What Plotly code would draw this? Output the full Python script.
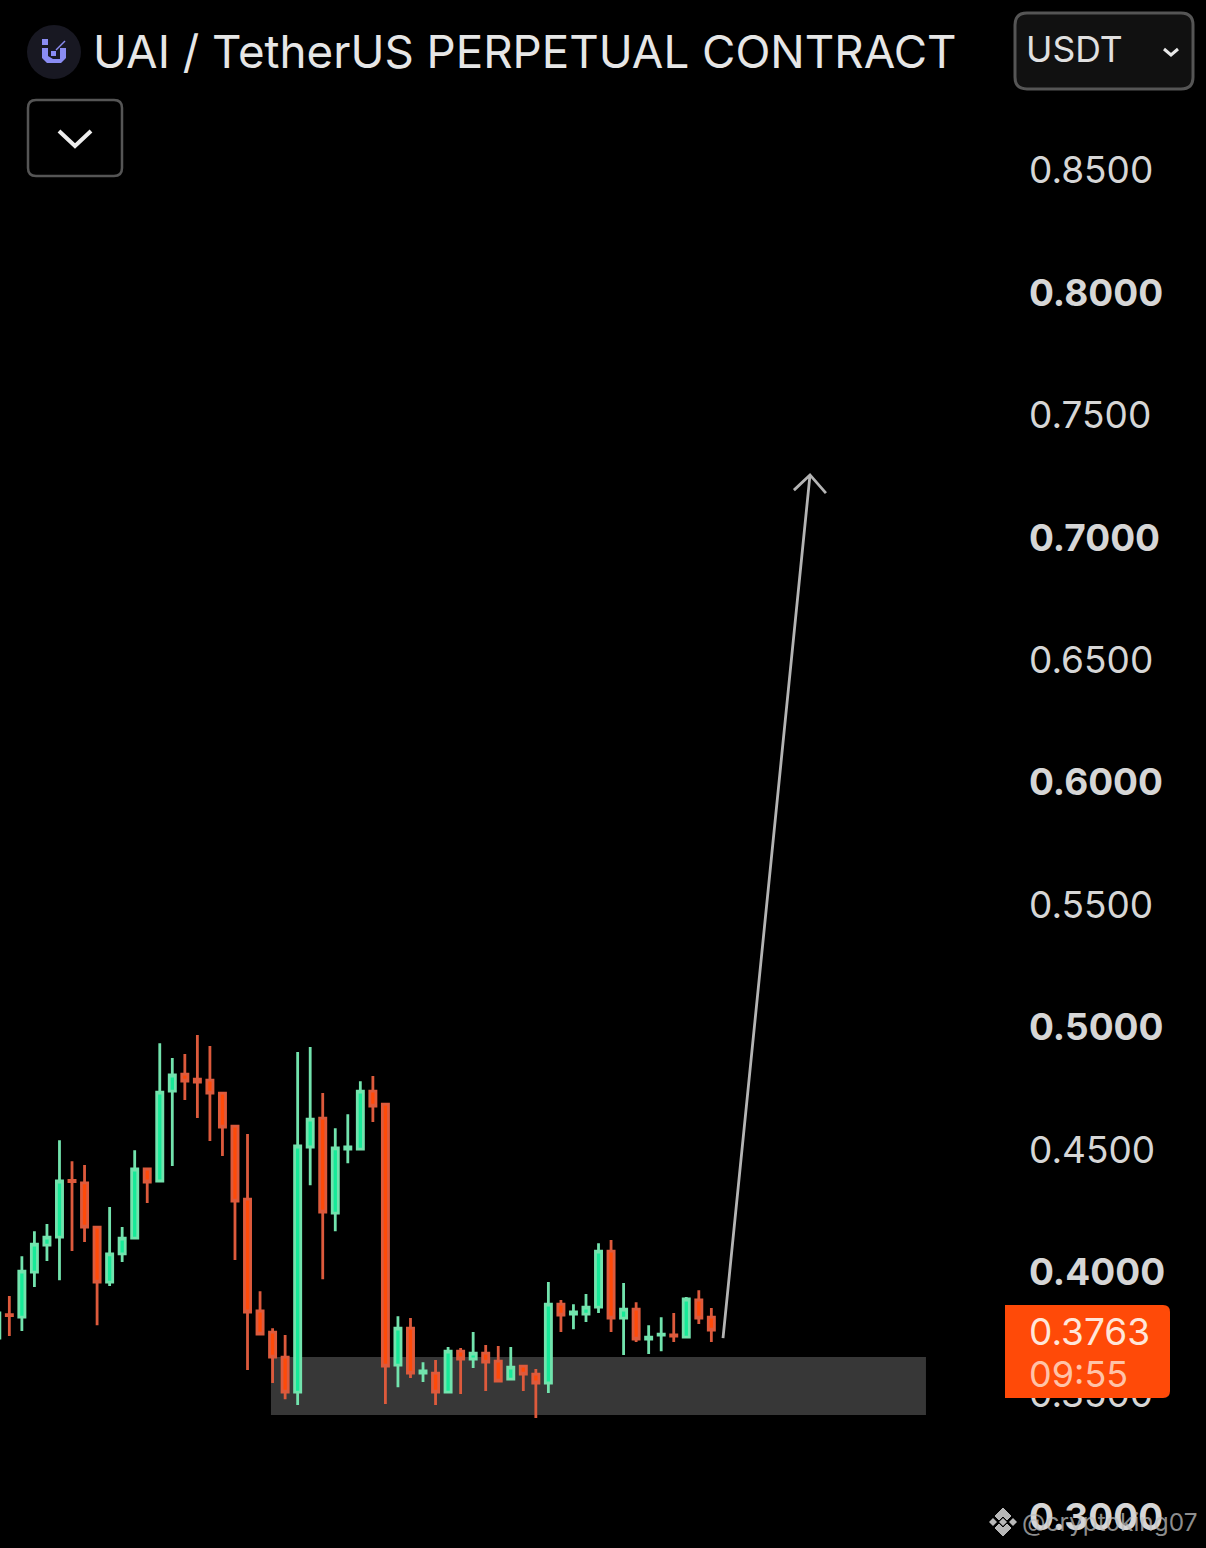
import plotly.graph_objects as go

W, H = 1206, 1548
PLOT_R = 1028

candle_x = list(range(58))
opens = [.3730, .3826, .3816, .4000, .4110, .4143, .4374, .4364, .4184, .3959,
         .4074, .4139, .4421, .4372, .4739, .4809, .4788, .4784, .4731, .4596,
         .4298, .3841, .3755, .3653, .3510, .4511, .4629, .4241, .4502, .4502,
         .4739, .4686, .3620, .3771, .3587, .3587, .3510, .3677, .3645, .3669,
         .3636, .3563, .3616, .3583, .3547, .3869, .3828, .3828, .3857, .4086,
         .3812, .3849, .3726, .3743, .3743, .3734, .3886, .3816]
highs = [.3833, .3902, .4065, .4167, .4196, .4539, .4453, .4437, .4188, .4266,
         .4184, .4498, .4425, .4935, .4874, .4891, .4968, .4923, .4735, .4600,
         .4564, .3922, .3771, .3743, .4899, .4919, .4731, .4588, .4645, .4780,
         .4801, .4690, .3820, .3812, .3632, .3641, .3694, .3690, .3755, .3702,
         .3698, .3694, .3620, .3604, .3959, .3886, .3869, .3910, .4118, .4131,
         .3955, .3877, .3783, .3816, .3833, .3898, .3926, .3853]
lows = [.3730, .3739, .3759, .3939, .4045, .3967, .4086, .4123, .3783, .3943,
        .4041, .4135, .4282, .4368, .4433, .4703, .4629, .4535, .4474, .4049,
        .3600, .3743, .3547, .3481, .3457, .4355, .3971, .4167, .4445, .4502,
        .4613, .3461, .3530, .3567, .3551, .3457, .3506, .3502, .3608, .3514,
        .3551, .3563, .3514, .3404, .3506, .3755, .3767, .3796, .3833, .3755,
        .3661, .3714, .3665, .3677, .3714, .3734, .3788, .3714]
closes = [.3833, .3822, .4004, .4114, .4143, .4372, .4370, .4184, .3959, .4074,
          .4139, .4421, .4368, .4735, .4805, .4780, .4776, .4731, .4592, .4290,
          .3837, .3747, .3653, .3510, .4515, .4625, .4245, .4507, .4511, .4739,
          .4678, .3616, .3771, .3587, .3596, .3510, .3677, .3645, .3669, .3632,
          .3555, .3612, .3583, .3547, .3869, .3824, .3837, .3857, .4086, .3812,
          .3849, .3726, .3734, .3747, .3739, .3890, .3812, .3763]

tick_vals = [.30, .35, .40, .45, .50, .55, .60, .65, .70, .75, .80, .85]
tick_text = ['<b>0.3000</b>', '0.3500', '<b>0.4000</b>', '0.4500', '<b>0.5000</b>', '0.5500',
             '<b>0.6000</b>', '0.6500', '<b>0.7000</b>', '0.7500', '<b>0.8000</b>', '0.8500']

zone_x = [21.87, 74.12]
zone_y = [.3416, .3653]
arrow_x = [57.93, 64.87, 63.59, 64.87, 66.14]
arrow_y = [.3730, .7256, .7194, .7256, .7182]

# page pixels to paper coords
def X(x):
    return x / PLOT_R

def Y(y):
    return 1 - y / H

def rrect(x0, y0, x1, y1, r):
    return (f"M {X(x0 + r)} {Y(y0)} L {X(x1 - r)} {Y(y0)} Q {X(x1)} {Y(y0)} {X(x1)} {Y(y0 + r)} "
            f"L {X(x1)} {Y(y1 - r)} Q {X(x1)} {Y(y1)} {X(x1 - r)} {Y(y1)} "
            f"L {X(x0 + r)} {Y(y1)} Q {X(x0)} {Y(y1)} {X(x0)} {Y(y1 - r)} "
            f"L {X(x0)} {Y(y0 + r)} Q {X(x0)} {Y(y0)} {X(x0 + r)} {Y(y0)} Z")

def poly(points, close=True):
    s = 'M ' + ' L '.join(f"{X(a)} {Y(b)}" for a, b in points)
    return s + (' Z' if close else '')

def paper_shape(path, fill='rgba(0,0,0,0)', line='rgba(0,0,0,0)', width=0):
    return dict(type='path', xref='paper', yref='paper', path=path, fillcolor=fill,
                line=dict(color=line, width=width), layer='above')

fig = go.Figure()

fig.add_shape(type='rect', x0=zone_x[0], x1=zone_x[1], y0=zone_y[0], y1=zone_y[1],
              fillcolor='#373737', line_width=0, layer='below')

fig.add_trace(go.Candlestick(x=candle_x, open=opens, high=highs, low=lows, close=closes,
                             increasing=dict(line=dict(color='#72e3ad', width=2.8), fillcolor='#16ea98'),
                             decreasing=dict(line=dict(color='#dd5a3c', width=2.8), fillcolor='#ff4a08'),
                             whiskerwidth=0, showlegend=False, hoverinfo='skip'))

fig.add_trace(go.Scatter(x=arrow_x, y=arrow_y, mode='lines', showlegend=False, hoverinfo='skip',
                         line=dict(color='#b4b4b4', width=2.8)))

shapes = [
    # price tag
    paper_shape(f"M {X(1005)} {Y(1305)} L {X(1163)} {Y(1305)} Q {X(1170)} {Y(1305)} {X(1170)} {Y(1312)} "
                f"L {X(1170)} {Y(1391)} Q {X(1170)} {Y(1398)} {X(1163)} {Y(1398)} L {X(1005)} {Y(1398)} Z",
                fill='#ff4a08'),
    # dropdown boxes
    paper_shape(rrect(28, 100, 122, 176, 8), line='#555555', width=2.5),
    paper_shape(poly([(59, 131), (75, 146), (91, 131)], close=False), line='#eeeeee', width=4),
    paper_shape(rrect(1015, 13, 1193, 89, 12), fill='#111111', line='#555555', width=3),
    paper_shape(poly([(1164, 49), (1171, 55), (1178, 49)], close=False), line='#e8e8e8', width=3),
    # logo
    dict(type='circle', xref='paper', yref='paper', x0=X(27), x1=X(81), y0=Y(79), y1=Y(25),
         fillcolor='#181822', line_width=0, layer='above'),
    paper_shape(poly([(42, 48), (48, 48), (48, 56), (53, 59), (60, 59), (60, 48), (66, 48),
                      (66, 58), (61, 63), (47, 63), (42, 58)]), fill='#8a8cf2'),
    paper_shape(poly([(42, 39), (48, 39), (48, 45), (42, 45)]), fill='#8a8cf2'),
    paper_shape(poly([(51, 51), (56, 51), (56, 56), (51, 56)]), fill='#8a8cf2'),
    paper_shape(poly([(56, 50), (65, 41)], close=False), line='#8a8cf2', width=1.5),
    # watermark logo
    paper_shape(poly([(1003, 1508), (1011, 1516), (1007, 1520), (1003, 1516), (999, 1520), (995, 1516)]), fill='#b8b8b8', line='#b8b8b8', width=1),
    paper_shape(poly([(1003, 1536), (1011, 1528), (1007, 1524), (1003, 1528), (999, 1524), (995, 1528)]), fill='#b8b8b8', line='#b8b8b8', width=1),
    paper_shape(poly([(989, 1522), (993, 1518), (997, 1522), (993, 1526)]), fill='#b8b8b8'),
    paper_shape(poly([(1017, 1522), (1013, 1518), (1009, 1522), (1013, 1526)]), fill='#b8b8b8'),
    paper_shape(poly([(1003, 1518), (1007, 1522), (1003, 1526), (999, 1522)]), fill='#b8b8b8'),
]
for s in shapes:
    fig.add_shape(**s)

def label(text, x, y, size, color, anchor='left'):
    fig.add_annotation(text=text, xref='paper', yref='paper', x=X(x), y=Y(y), xanchor=anchor, yanchor='middle',
                       showarrow=False, font=dict(family='Inter', size=size, color=color), borderpad=0, borderwidth=0)

label('UAI / TetherUS PERPETUAL CONTRACT', 93, 51, 45.7, '#e6e6e6')
label('USDT', 1026, 50, 35.5, '#e0e0e0')
label('0.3763', 1029, 1331, 37, '#ffe6da')
label('09:55', 1029, 1374, 36, '#ffc3a8')
label('@cryptoking07', 1022, 1522, 24.4, 'rgba(190,190,190,0.75)')

fig.update_layout(
    width=W, height=H,
    margin=dict(l=0, r=W - PLOT_R, t=0, b=0),
    paper_bgcolor='#000000', plot_bgcolor='#000000',
    font=dict(family='Inter', size=37, color='#d6d6d6'),
    showlegend=False,
    xaxis=dict(visible=False, range=[0.255, 82.26], rangeslider=dict(visible=False)),
    yaxis=dict(side='right', range=[.2873, .9196], tickmode='array', tickvals=tick_vals, ticktext=tick_text,
               showgrid=False, zeroline=False, showline=False, ticks='',
               tickfont=dict(family='Inter', size=37, color='#d6d6d6')),
)

fig.write_html("out.html", config=dict(displayModeBar=False),
               post_script="document.body.style.margin='0';document.body.style.background='#000';")
